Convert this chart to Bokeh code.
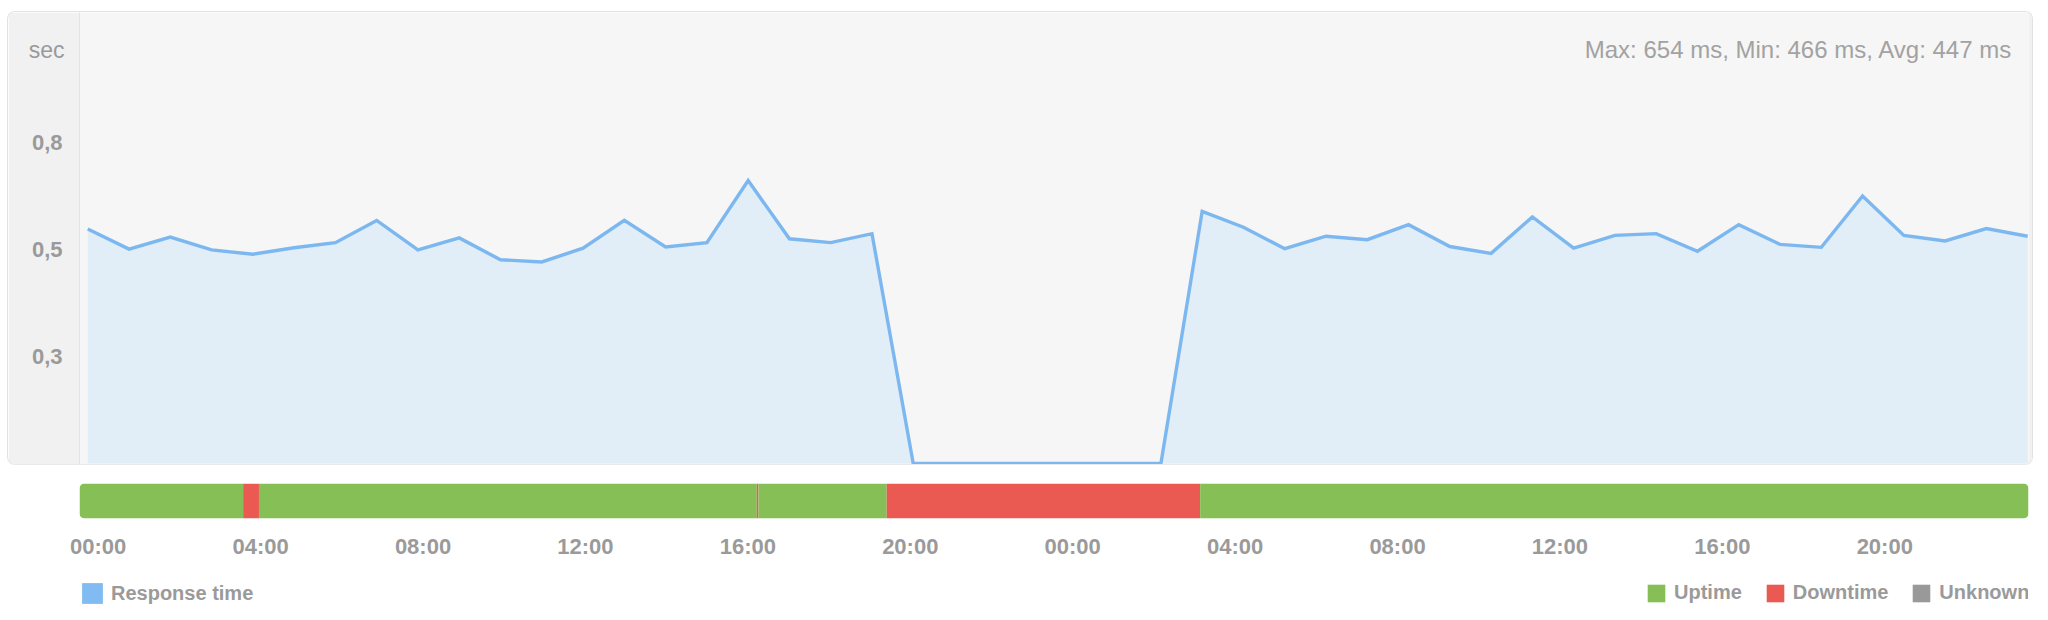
import numpy as np
from bokeh.plotting import figure
from bokeh.models import Range1d, FixedTicker, Label, Legend, LegendItem, Spacer, LinearAxis
from bokeh.layouts import column, row
from bokeh.embed import file_html
from bokeh.resources import INLINE

# ---------------- data ----------------
hours = list(range(48))
response_sec = [0.548, 0.501, 0.529, 0.499, 0.489, 0.504, 0.516, 0.568, 0.499, 0.527,
                0.476, 0.471, 0.503, 0.568, 0.506, 0.516, 0.661, 0.525, 0.516, 0.537,
                0.0, 0.0, 0.0, 0.0, 0.0, 0.0, 0.0,
                0.589, 0.552, 0.502, 0.531, 0.523, 0.558, 0.507, 0.491, 0.576, 0.503,
                0.533, 0.537, 0.496, 0.558, 0.512, 0.505, 0.625, 0.533, 0.520, 0.549, 0.531]
y_ticks = [0.25, 0.5, 0.75]
y_tick_labels = ["0,3", "0,5", "0,8"]
y_unit = "sec"
stats_text = "Max: 654 ms, Min: 466 ms, Avg: 447 ms"

x_ticks = [0, 4, 8, 12, 16, 20, 24, 28, 32, 36, 40, 44]
x_tick_labels = ["00:00", "04:00", "08:00", "12:00", "16:00", "20:00",
                 "00:00", "04:00", "08:00", "12:00", "16:00", "20:00"]

seg_start = [-0.46, 3.57, 3.96, 16.22, 16.26, 19.42, 27.14]
seg_end = [3.57, 3.96, 16.22, 16.26, 19.42, 27.14, 47.54]
seg_status = ["Uptime", "Downtime", "Uptime", "Downtime", "Uptime", "Downtime", "Uptime"]

legend_left = ["Response time"]
legend_right = ["Uptime", "Downtime", "Unknown"]

# ---------------- style ----------------
FONT = "Liberation Sans"
GRAY_TXT = "#9a9a9a"
BLUE_LINE = "#7cb8ef"
BLUE_FILL = "#e1edf7"
STATUS_COLORS = {"Uptime": "#86bf55", "Downtime": "#eb5a52", "Unknown": "#999999"}
RESP_COLOR = "#80bbf2"

# ---------------- top: response time ----------------
top = figure(width=2024, height=452, output_backend="svg", toolbar_location=None,
             x_range=Range1d(-0.2, 47.02), y_range=Range1d(-0.0023, 1.0537),
             x_axis_location=None,
             min_border_left=71, min_border_right=0, min_border_top=0, min_border_bottom=0,
             background_fill_color="#f6f6f6", border_fill_color="#f1f1f1",
             outline_line_color=None)
top.grid.visible = False
top.varea(x=hours, y1=0, y2=response_sec, fill_color=BLUE_FILL)
top.line(hours, response_sec, line_color=BLUE_LINE, line_width=3.4, line_join="miter")

ya = top.yaxis[0]
ya.ticker = FixedTicker(ticks=y_ticks)
ya.major_label_overrides = dict(zip(y_ticks, y_tick_labels))
ya.major_tick_line_color = None
ya.minor_tick_line_color = None
ya.axis_line_color = "#e4e4e4"
ya.major_label_standoff = 11
ya.major_label_text_font = FONT
ya.major_label_text_font_size = "22px"
ya.major_label_text_font_style = "bold"
ya.major_label_text_color = GRAY_TXT

text_y = 0.967
# unit label "sec" as a second (outer) axis whose single label is pulled back over the tick column
sec_axis = LinearAxis(ticker=FixedTicker(ticks=[text_y]),
                      major_label_overrides={text_y: y_unit},
                      major_label_standoff=-42,
                      axis_line_color=None, major_tick_line_color=None,
                      minor_tick_line_color=None,
                      major_label_text_font=FONT, major_label_text_font_size="23px",
                      major_label_text_font_style="normal",
                      major_label_text_color=GRAY_TXT)
top.add_layout(sec_axis, "left")

top.add_layout(Label(x=top.x_range.end, y=text_y, x_offset=-16, text=stats_text,
                     text_align="right", text_baseline="middle", text_font=FONT,
                     text_font_size="24px", text_color="#a2a2a2"))
top.styles = {"border-radius": "7px", "overflow": "hidden",
              "box-shadow": "0 0 0 1px #e2e2e2"}

# ---------------- middle: status bar ----------------
bar = figure(width=2024, height=99, output_backend="svg", toolbar_location=None,
             x_range=Range1d(min(seg_start), max(seg_end)), y_range=Range1d(0, 1),
             y_axis_location=None,
             min_border_left=70, min_border_right=4, min_border_top=19, min_border_bottom=45,
             background_fill_color="white", border_fill_color="white",
             outline_line_color=None)
bar.grid.visible = False
n = len(seg_start)
for i, (s, e, st) in enumerate(zip(seg_start, seg_end, seg_status)):
    if i == 0:
        rad = (5, 0, 0, 5)
    elif i == n - 1:
        rad = (0, 5, 5, 0)
    else:
        rad = 0
    bar.quad(left=[s], right=[e], bottom=[0], top=[1], fill_color=STATUS_COLORS[st],
             line_color=None, border_radius=rad)

xa = bar.xaxis[0]
xa.ticker = FixedTicker(ticks=x_ticks)
xa.major_label_overrides = dict(zip(x_ticks, x_tick_labels))
xa.axis_line_color = None
xa.major_tick_line_color = None
xa.minor_tick_line_color = None
xa.major_label_standoff = 9
xa.major_label_text_font = FONT
xa.major_label_text_font_size = "22px"
xa.major_label_text_font_style = "bold"
xa.major_label_text_color = GRAY_TXT

# ---------------- bottom: legends ----------------
leg = figure(width=2024, height=44, output_backend="svg", toolbar_location=None,
             x_range=Range1d(0, 1), y_range=Range1d(0, 1),
             x_axis_location=None, y_axis_location=None,
             min_border_left=70, min_border_right=4, min_border_top=0, min_border_bottom=0,
             background_fill_color="white", border_fill_color="white",
             outline_line_color=None)
leg.grid.visible = False
nan = [np.nan]
r_resp = leg.quad(left=nan, right=nan, bottom=nan, top=nan, fill_color=RESP_COLOR, line_color=None)
r_status = [leg.quad(left=nan, right=nan, bottom=nan, top=nan, fill_color=STATUS_COLORS[k],
                     line_color=None) for k in legend_right]

def style_legend(lg):
    lg.orientation = "horizontal"
    lg.padding = 0
    lg.margin = 0
    lg.border_line_color = None
    lg.background_fill_alpha = 0
    lg.label_text_font = FONT
    lg.label_text_font_size = "20px"
    lg.label_text_font_style = "bold"
    lg.label_text_color = GRAY_TXT

lg_l = Legend(items=[LegendItem(label=legend_left[0], renderers=[r_resp], index=0)],
              location=(0, 1), glyph_width=26, glyph_height=26, label_standoff=6)
style_legend(lg_l)
lg_r = Legend(items=[LegendItem(label=k, renderers=[r], index=0) for k, r in zip(legend_right, r_status)],
              location=(1566, 3), glyph_width=22, glyph_height=22, label_standoff=7, spacing=22)
style_legend(lg_r)
leg.add_layout(lg_l)
leg.add_layout(lg_r)

layout = row(Spacer(width=8, height=10),
             column(Spacer(width=2024, height=12), top, bar, leg))
open("out.html", "w").write(file_html(layout, INLINE))
